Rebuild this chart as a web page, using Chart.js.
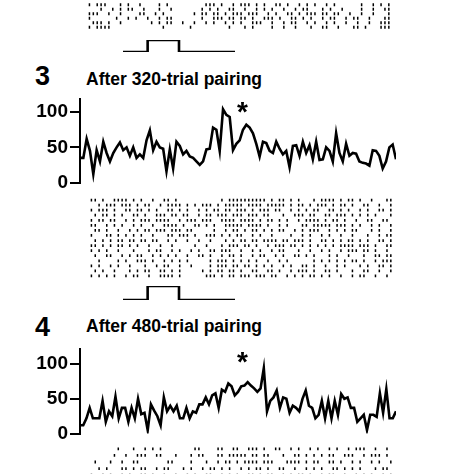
<!DOCTYPE html>
<html>
<head>
<meta charset="utf-8">
<script src="https://cdn.jsdelivr.net/npm/chart.js@4"></script>
<style>
  body { margin: 0; background: #fff; width: 474px; height: 474px; position: relative; overflow: hidden; font-family: Arial, "Liberation Sans", sans-serif; }
  .box { position: absolute; }
  .num { position: absolute; font-weight: bold; font-size: 27px; }
  .title { position: absolute; font-weight: bold; font-size: 17.5px; }
  .star { position: absolute; font-weight: bold; font-size: 28px; }
</style>
</head>
<body>
<div class="box" style="left:82px;top:-3px;width:324px;height:38px"><canvas id="rasterTop"></canvas></div>
<div class="box" style="left:121px;top:38px;width:116px;height:16px"><canvas id="stim1"></canvas></div>
<div class="num" style="left:35px;top:61px">3</div>
<div class="title" style="left:86px;top:69px">After 320-trial pairing</div>
<div class="box" style="left:30px;top:86px;width:366px;height:110px"><canvas id="rate3"></canvas></div>
<div class="star" style="left:237px;top:96px">*</div>
<div class="box" style="left:84px;top:192px;width:320px;height:92px"><canvas id="raster3"></canvas></div>
<div class="box" style="left:121px;top:284px;width:116px;height:18px"><canvas id="stim2"></canvas></div>
<div class="num" style="left:35px;top:312px">4</div>
<div class="title" style="left:86px;top:316px">After 480-trial pairing</div>
<div class="box" style="left:30px;top:336px;width:366px;height:111px"><canvas id="rate4"></canvas></div>
<div class="star" style="left:237px;top:346px">*</div>
<div class="box" style="left:84px;top:440px;width:320px;height:44px"><canvas id="raster4"></canvas></div>
<script>
// firing rate (spikes/s) per time bin
const rate3 = [35,35,62,45,12,46,30,58,42,30,42,50,57,46,50,38,50,35,40,35,60,74,46,58,50,48,16,47,20,58,52,40,45,37,35,30,25,30,47,48,78,75,45,104,96,93,46,55,60,75,82,78,70,55,37,58,56,45,42,58,48,40,45,22,52,53,38,58,42,53,33,58,32,33,50,45,30,70,42,30,55,38,42,41,30,28,27,24,46,45,38,20,30,50,54,33];
const rate4 = [12,12,22,37,22,22,22,47,17,32,25,53,22,37,37,17,37,22,50,28,30,5,42,33,25,12,52,32,40,32,40,22,22,37,22,32,30,42,42,52,42,55,58,37,63,60,72,68,55,60,68,69,74,69,65,60,65,94,32,47,52,62,37,52,50,30,40,37,32,50,62,40,37,22,27,47,22,47,22,47,27,57,50,52,37,37,17,22,27,5,27,27,24,58,30,64,22,22,32];
const yTicks = [0, 50, 100];

// stimulus trace (time, on/off)
const stimTimes = [0, 2.2, 2.2, 5, 5, 10];
const stimLevel = [0, 0, 1, 1, 0, 0];

// raster rows: '|' = spike in that 4 ms column
const rasterTopRows = [
  "|.|||...|.|..|....|.|.........|||.|..|.|||.|.|..||.|..|.|.|..|.|......|..|.|.|.",
  "...|..|.|.||..|...|..|.......|.|.|..||..|..|.|.|..|..|.||...|.|..|....|..|..||.",
  "|||..|..|....||..|.|.......|.||.||.|.|||.|||..|.|..||.|.|||.||.||..|..|..|...|.",
  "|......|..|.|..|..|.||.......|..|||.||.||.|..|||.|..||.|.|..|.||..|.||..|...||.",
  ".|||.|..|.......|.|.||..|..|..|.|..|.|.|..|||..|..|.||..|.|..|.|..|..|..|..|||.",
  "|.||||.............|......|.........|...|.|....|..|..|...|..||..|...||.|...|||.."
];
const raster3Rows = [
  "||.|..||||.|.|..|..||.|...........|.||||||||||.|.||.|.|...|.||||.|.||.|..|...||",
  "..|.|||.|||.|.||..|.||||.|.|.|||.|.|||||.||||.|||||.|.||.|.|||.|.||.|..||..|..|",
  "|.|||.|..||.||.|.|..||.|.|..|.|.||.||.|||.|.|||.||..|.|.|.||..||.|.|..|.|..||.|",
  ".|.||.|.|..||.|..|||.||.||..|.||.|||.|||.|||.||...|..|||.||..||.|||.|.|.|.|...|",
  "|.||.||..|.|.|||.||||..|.|||.|||..||||.||||.|.||.|.|..|.||||.|.||.|..|..||..||.",
  "||..|.|.|..|.|..|..||||.|..||.|.|..|||||.||||.|..|.|...||.|||||.|||.|.|..|.|..|",
  ".||.|..|..|.|.||.|||.|||.||.....|..|.||.|.||.|.|.||..|.|.|||..|.|.|.||...|.|..|",
  "|...||.|.|.|.|..|...||.|||.|..|||.|.|.||..|.|..|....|..|.|..|.|..|..|...|..|.||",
  ".|.|.|.||.||.||.||..|.|..|..|..|...|.|.||.||.||||.||.|||.|..||.|.|.||.|.|..||.|",
  "||.|.|.||.|.|..|..|..|.....|..|...|.|||.||.|..|.|||.||.|.|.|.|.|.||||.|||.|..||",
  "|.|.|..|...|...|.||..|.|..|.|..||.|||..|..|.|..|.||...|..|..|.|..|.|||.||.|..|.",
  ".|..||..|.|.||..|.|.|.|..|..||.|..|.||.|..|.||..|.|..||.|.|...|.|..|...|..||.||",
  "..|....|.|..|||.|..|.|.|.|.....|.|||.|.|.|.|..|..|.|......|.|.|.|.|.||.|..|.|||",
  "|.|..|.|..|...|..|.||..|..|....|.|||.||.||.|.|.|..|.|..||.|..|..|.|...|.|..||.|",
  ".|.|..|...|.|.||..||.|.|.....|.|.||.||.|..||..||.|..|.|||.|..||.|...|..||..|..|",
  "|.|.|.|..|.||..|..||||.|......|||.|.||.|||.|||.||..|.|.|.||.|.|..|..|.||..|..|."
];
const raster4Rows = [
  ".......|...|..|.|.|........||....||..||..|||.|..||..|.|..|.|..|.|..|.|||..|..|.",
  "......|..|..|||..||...|...|.||...||.|||||.||.||...|..||.|.|.|.||..|||..|.|||.|.",
  ".|...|..|..||.......||....|...|..|.||.|.||||.|||...||||.|.||..||.|..|.|..|.|..|",
  "..|.|...||.|.||..|.||...|.|..|.||.|.|..|.|.||.|..||..|..|.|.|..||.|.|.|...|.||.",
  "|..|.|..|.|..||.|..|..|..|.|..||..|.|.|..||.|.||..|.|.||.|..|.||..|..|.|.|..|.|"
];

const boldFont = { family: "Arial, 'Liberation Sans', sans-serif", size: 19, weight: "bold" };

function rateChart(id, values, yMax) {
  new Chart(document.getElementById(id), {
    type: "line",
    data: {
      labels: values.map((v, i) => i),
      datasets: [{ data: values, borderColor: "#000", borderWidth: 2.6, pointRadius: 0, tension: 0 }],
    },
    options: {
      animation: false, responsive: true, maintainAspectRatio: false,
      layout: { padding: { top: 10, bottom: 10, right: 0, left: 0 } },
      plugins: { legend: { display: false }, tooltip: { enabled: false } },
      scales: {
        x: { display: false, offset: false },
        y: {
          min: 0, max: yMax,
          afterFit: (s) => { s.width = 50; },
          afterBuildTicks: (s) => { s.ticks = yTicks.map((v) => ({ value: v })); },
          border: { display: true, color: "#000", width: 2 },
          grid: { drawOnChartArea: false, color: "#000", lineWidth: 2, tickLength: 10 },
          ticks: { color: "#000", font: boldFont, padding: 2 },
        },
      },
    },
  });
}

function rasterChart(id, rows) {
  const pts = [];
  rows.forEach((row, r) => {
    for (let c = 0; c < row.length; c++) if (row[c] === "|") pts.push({ x: c, y: r });
  });
  new Chart(document.getElementById(id), {
    type: "scatter",
    data: { datasets: [{ data: pts, pointStyle: "line", rotation: 90, radius: 1.4, borderWidth: 1.5, borderColor: "#000" }] },
    options: {
      animation: false, responsive: true, maintainAspectRatio: false,
      layout: { padding: 0 },
      plugins: { legend: { display: false }, tooltip: { enabled: false } },
      scales: {
        x: { display: false, min: -0.5, max: 80 },
        y: { display: false, min: -0.5, max: rows.length - 0.5, reverse: true },
      },
    },
  });
}

function stimChart(id) {
  new Chart(document.getElementById(id), {
    type: "line",
    data: { datasets: [{ data: stimTimes.map((t, i) => ({ x: t, y: stimLevel[i] })), borderColor: "#000", borderWidth: 2.6, pointRadius: 0 }] },
    options: {
      animation: false, responsive: true, maintainAspectRatio: false,
      layout: { padding: 2 },
      plugins: { legend: { display: false }, tooltip: { enabled: false } },
      scales: { x: { type: "linear", display: false, min: 0, max: 10 }, y: { display: false, min: 0, max: 1 } },
    },
  });
}

rasterChart("rasterTop", rasterTopRows);
stimChart("stim1");
rateChart("rate3", rate3, 118);
rasterChart("raster3", raster3Rows);
stimChart("stim2");
rateChart("rate4", rate4, 121);
rasterChart("raster4", raster4Rows);
</script>
</body>
</html>
